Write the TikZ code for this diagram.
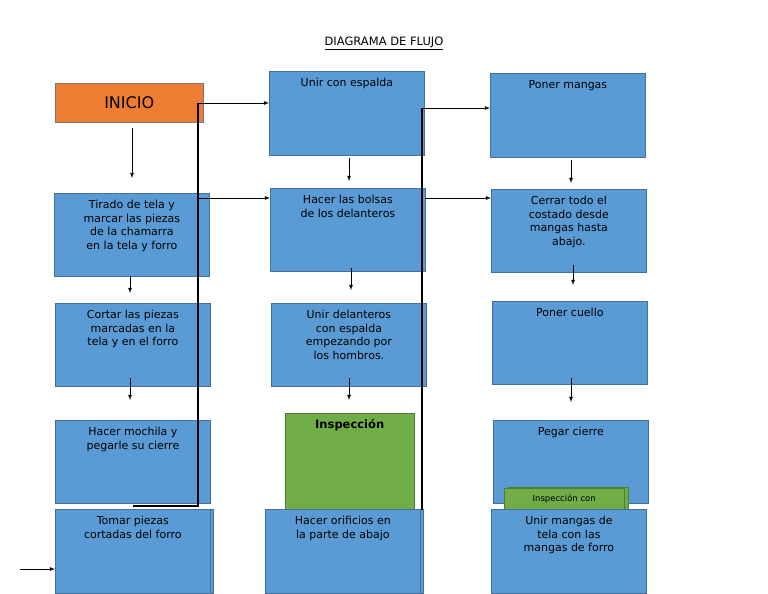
\documentclass[tikz,border=0pt]{standalone}
\usepackage{fontspec}
\setmainfont{DejaVu Sans}
\usetikzlibrary{calc}
\definecolor{bl}{HTML}{5B9BD5}
\definecolor{bld}{HTML}{41719C}
\definecolor{gr}{HTML}{70AD47}
\definecolor{grd}{HTML}{507E32}
\definecolor{og}{HTML}{ED7D31}
\tikzset{x=1pt,y=-1pt,
 box/.style={draw=bld,fill=bl,line width=0.8pt},
 txt/.style={anchor=north,align=center,font=\fontsize{11}{13.5}\selectfont,inner sep=0pt},
 arr/.style={-latex,line width=0.8pt},
 thick line/.style={line width=2pt}}
\newcommand\bx[7]{\node[box,fill=#7,minimum width=#4pt-#2pt,minimum height=#5pt-#3pt,anchor=north west,inner sep=0pt] (#1) at (#2,#3) {};
 \node[txt] at ($(#1.north)+(0,7)$) {#6};}
\begin{document}
\begin{tikzpicture}
\useasboundingbox (0,0) rectangle (768,594);
\node[font=\fontsize{11.5}{14}\selectfont] (title) at (384,43) {\underline{DIAGRAMA DE FLUJO}};
\node[draw=bld!70!og,fill=og,minimum width=148pt,minimum height=39pt,anchor=north west,inner sep=0pt,font=\fontsize{16}{18}\selectfont] (ini) at (55,83) {INICIO};
\bx{esp}{269}{71}{424}{155}{Unir con espalda}{bl}
\bx{pm}{490}{73}{645}{157}{Poner mangas}{bl}
\bx{tir}{54}{193}{209}{276}{Tirado de tela y\\marcar las piezas\\de la chamarra\\en la tela y forro}{bl}
\bx{bol}{270}{188}{425}{271}{Hacer las bolsas\\de los delanteros}{bl}
\bx{cer}{491}{189}{646}{272}{Cerrar todo el\\costado desde\\mangas hasta\\abajo.}{bl}
\bx{cor}{55}{303}{210}{386}{Cortar las piezas\\marcadas en la\\tela y en el forro}{bl}
\bx{del}{271}{303}{426}{386}{Unir delanteros\\con espalda\\empezando por\\los hombros.}{bl}
\bx{cue}{492}{301}{647}{384}{Poner cuello}{bl}
\bx{moc}{55}{420}{210}{503}{Hacer mochila y\\pegarle su cierre}{bl}
\node[draw=grd,fill=gr,minimum width=129pt,minimum height=97pt,anchor=north west,inner sep=0pt] (insp) at (285,413) {};
\node[txt,font=\bfseries\fontsize{11.5}{14}\selectfont] at ($(insp.north)+(0,6)$) {Inspección};
\bx{peg}{493}{420}{648}{503}{Pegar cierre}{bl}
\draw[box] (58,509) rectangle (213,593);
\bx{tom}{55}{509}{210}{593}{Tomar piezas\\cortadas del forro}{bl}
\draw[box] (268,509) rectangle (423,593);
\bx{ori}{265}{509}{420}{593}{Hacer orificios en\\la parte de abajo}{bl}
\draw[draw=grd,fill=gr] (508,487) rectangle (628,509);
\node[draw=grd,fill=gr,minimum width=120pt,minimum height=22pt,anchor=north west,inner sep=0pt,font=\fontsize{8.5}{10}\selectfont] (ic) at (504,488) {Inspección con};
\bx{um}{491}{509}{646}{593}{Unir mangas de\\tela con las\\mangas de forro}{bl}
% arrows
\draw[arr] (132,128) -- (132,178);
\draw[arr] (130,276) -- (130,293);
\draw[arr] (130,378) -- (130,400);
\draw[arr] (349,158) -- (349,181);
\draw[arr] (351,268) -- (351,290);
\draw[arr] (349,378) -- (349,400);
\draw[arr] (571,160) -- (571,183);
\draw[arr] (573,265) -- (573,285);
\draw[arr] (571,378) -- (571,402);
\draw[thick line] (133,506) -- (198,506) -- (198,103);
\draw[arr] (198,103) -- (esp.west |- 0,103);
\draw[arr] (198,198) -- (bol.west |- 0,198);
\draw[thick line] (422,510) -- (422,108);
\draw[arr] (422,108) -- (pm.west |- 0,108);
\draw[arr] (425,198) -- (cer.west |- 0,198);
\coordinate (l) at (20,569);
\draw[arr] (l) -- (tom.west |- l);
\end{tikzpicture}
\end{document}
